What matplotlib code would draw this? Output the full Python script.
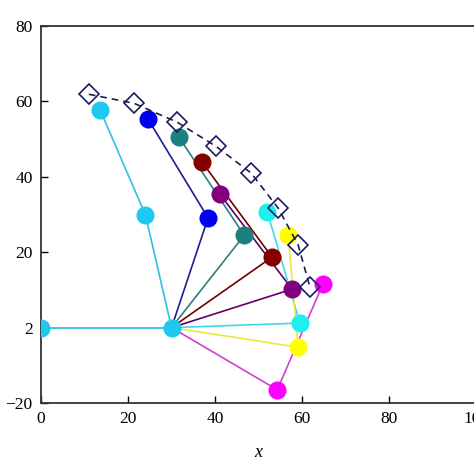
import numpy as np
import matplotlib.pyplot as plt

plt.rcParams["font.family"] = ["Liberation Serif", "DejaVu Serif"]

# base link: fixed point and first joint
base_x = [0, 30]
base_y = [0, 0]

# each configuration: elbow point and tip point (link from joint (30, 0))
elbow_x = [24.0, 38.4, 46.7, 53.1, 57.7, 59.5, 59.1, 54.3]
elbow_y = [29.9, 29.1, 24.5, 18.7, 10.2, 1.2, -5.2, -16.5]
tip_x = [13.6, 24.6, 31.7, 37.0, 41.1, 52.0, 56.8, 64.8]
tip_y = [57.7, 55.3, 50.5, 43.9, 35.4, 30.7, 24.5, 11.6]

marker_colors = ["#1ec8f0", "#0000ee", "#1a8080", "#820000",
                 "#800080", "#1ef0f0", "#ffff00", "#ff00ff"]
line_colors = ["#30c0e0", "#1c1c90", "#2a8080", "#700000",
               "#600060", "#40d8e8", "#e8e840", "#d040d0"]

# target path (diamonds)
path_x = [11.0, 21.4, 31.3, 40.2, 48.3, 54.5, 59.1, 61.8]
path_y = [61.9, 59.5, 54.5, 48.1, 41.0, 31.7, 21.9, 10.8]

fig = plt.figure(figsize=(4.74, 4.74), dpi=100)
ax = fig.add_axes([0.0865, 0.1498, 0.918, 0.7952])

ms = 13
ax.plot(base_x, base_y, color=line_colors[0], lw=1.3, zorder=2)

for ex, ey, tx, ty, lc in zip(elbow_x, elbow_y, tip_x, tip_y, line_colors):
    ax.plot([base_x[1], ex, tx], [base_y[1], ey, ty], color=lc, lw=1.2, zorder=2)

ax.plot(base_x, base_y, "o", ms=ms, color=marker_colors[0], mec="none", zorder=3)
for ex, ey, tx, ty, mc in zip(elbow_x, elbow_y, tip_x, tip_y, marker_colors):
    ax.plot([ex, tx], [ey, ty], "o", ms=ms, color=mc, mec="none", zorder=3)

ax.plot(path_x, path_y, "--", color="#1c1c50", lw=1.2, dashes=(4, 3),
        marker="D", ms=10, mfc="none", mec="#1c1c60", mew=1.2, zorder=4)

ax.set_xlim(0, 100)
ax.set_ylim(-20, 80)
ax.set_xticks([0, 20, 40, 60, 80, 100])
ax.set_xticklabels(["0", "20", "40", "60", "80", "100"])
ax.set_yticks([-20, 0, 20, 40, 60, 80])
ax.set_yticklabels(["\u221220", "2", "20", "40", "60", "80"])
ax.tick_params(direction="in", length=5, width=1, labelsize=12.5, pad=6)
for s in ax.spines.values():
    s.set_linewidth(1.3)
    s.set_color("#333333")
ax.set_xlabel("x", fontstyle="italic", fontsize=13, labelpad=12)

fig.savefig("out.png", dpi=100)
